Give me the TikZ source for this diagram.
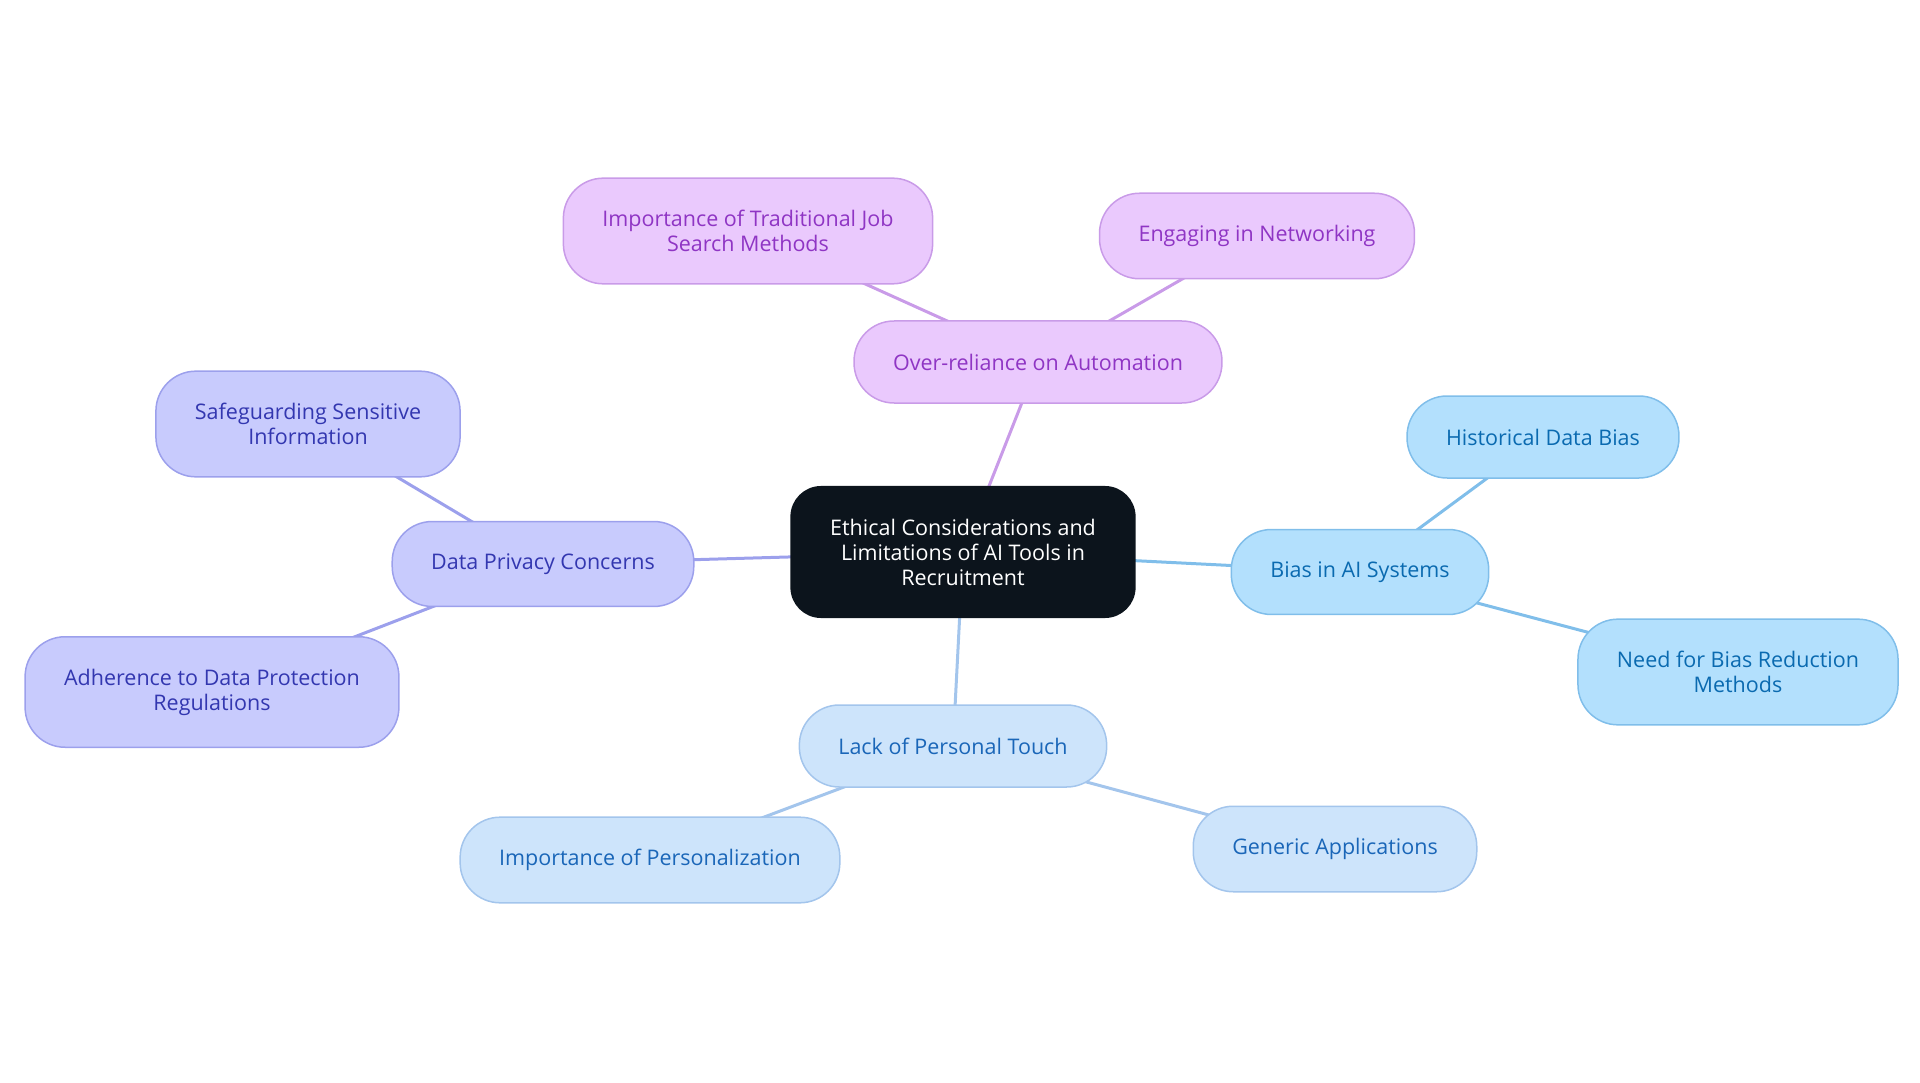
\documentclass[tikz,border=0pt]{standalone}
\usepackage{fontspec}
\setmainfont{Open Sans}
\usetikzlibrary{backgrounds}

\definecolor{rootfill}{HTML}{0C141C}
\definecolor{purfill}{HTML}{EAC9FD}
\definecolor{purline}{HTML}{C99BE8}
\definecolor{purtext}{HTML}{8F35C4}
\definecolor{lavfill}{HTML}{C8CBFD}
\definecolor{lavline}{HTML}{9CA0EC}
\definecolor{lavtext}{HTML}{3337B0}
\definecolor{skyfill}{HTML}{B3E0FD}
\definecolor{skyline}{HTML}{80BEEA}
\definecolor{skytext}{HTML}{0A6AB0}
\definecolor{palefill}{HTML}{CDE4FB}
\definecolor{paleline}{HTML}{A3C5EC}
\definecolor{paletext}{HTML}{1A66B8}

\begin{document}
\begin{tikzpicture}[x=1pt, y=-1pt,
  topic/.style={draw, line width=1.5pt, rounded corners=40pt, align=center,
    inner xsep=39pt, inner ysep=32pt, minimum height=82pt,
    font=\fontsize{21.5}{25}\selectfont},
  rootbox/.style={topic, fill=rootfill, draw=rootfill, text=white, rounded corners=30pt},
  purbox/.style={topic, fill=purfill, draw=purline, text=purtext},
  lavbox/.style={topic, fill=lavfill, draw=lavline, text=lavtext},
  skybox/.style={topic, fill=skyfill, draw=skyline, text=skytext},
  palebox/.style={topic, fill=palefill, draw=paleline, text=paletext},
  link/.style={line width=3pt}]
\useasboundingbox (0,0) rectangle (1920,1083);

\node [rootbox] (root) at (963,552) {Ethical Considerations and\\Limitations of AI Tools in\\Recruitment};

\node [purbox] (auto) at (1038,362) {Over-reliance on Automation};
\node [purbox] (trad) at (748,231) {Importance of Traditional Job\\Search Methods};
\node [purbox] (net) at (1257,236) {Engaging in Networking};

\node [lavbox] (privacy) at (543,564) {Data Privacy Concerns};
\node [lavbox] (safe) at (308,424) {Safeguarding Sensitive\\Information};
\node [lavbox] (rules) at (212,692) {Adherence to Data Protection\\Regulations};

\node [skybox] (bias) at (1360,572) {Bias in AI Systems};
\node [skybox] (hist) at (1543,437) {Historical Data Bias};
\node [skybox] (reduce) at (1738,672) {Need for Bias Reduction\\Methods};

\node [palebox] (touch) at (953,746) {Lack of Personal Touch};
\node [palebox] (personal) at (650,860) {Importance of Personalization};
\node [palebox] (generic) at (1335,849) {Generic Applications};

\begin{scope}[on background layer]
\draw [link, purline] (root.center) -- (auto.center);
\draw [link, purline] (auto.center) -- (trad.center);
\draw [link, purline] (auto.center) -- (net.center);
\draw [link, lavline] (root.center) -- (privacy.center);
\draw [link, lavline] (privacy.center) -- (safe.center);
\draw [link, lavline] (privacy.center) -- (rules.center);
\draw [link, skyline] (root.center) -- (bias.center);
\draw [link, skyline] (bias.center) -- (hist.center);
\draw [link, skyline] (bias.center) -- (reduce.center);
\draw [link, paleline] (root.center) -- (touch.center);
\draw [link, paleline] (touch.center) -- (personal.center);
\draw [link, paleline] (touch.center) -- (generic.center);
\end{scope}

\end{tikzpicture}
\end{document}
